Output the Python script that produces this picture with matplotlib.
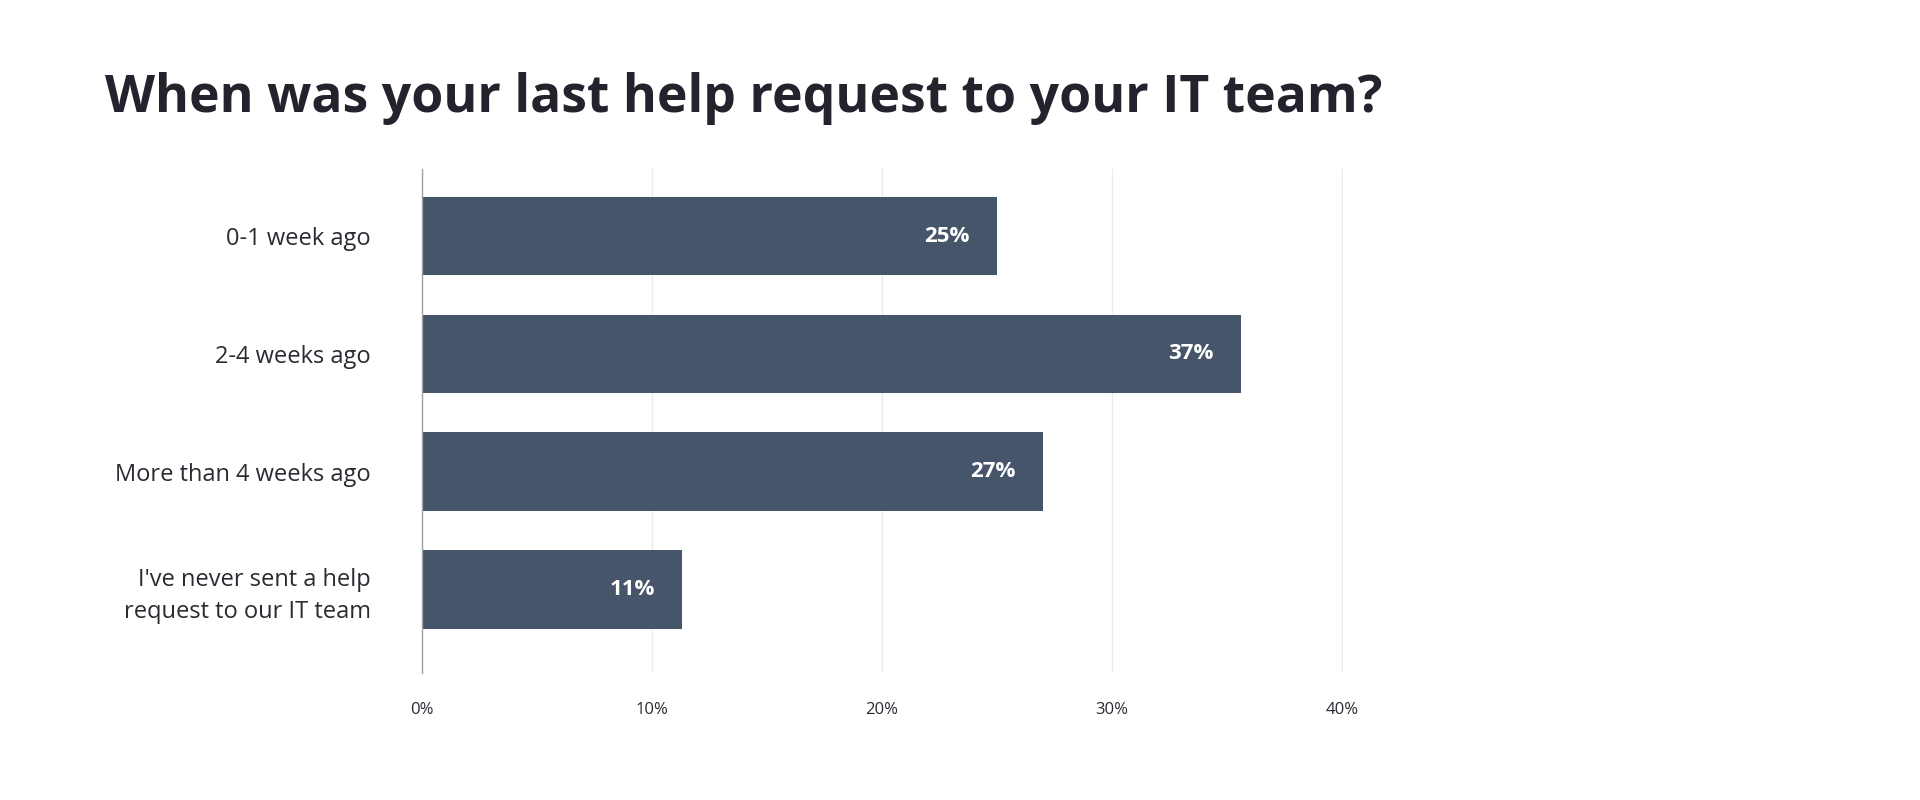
import matplotlib
matplotlib.use("Agg")
import matplotlib.pyplot as plt

# --- Data ---
categories = ["0-1 week ago", "2-4 weeks ago", "More than 4 weeks ago",
              "I've never sent a help\nrequest to our IT team"]
bar_values = [25, 35.6, 27, 11.3]
value_labels = ["25%", "37%", "27%", "11%"]
x_ticks = [0, 10, 20, 30, 40]
x_tick_labels = ["0%", "10%", "20%", "30%", "40%"]
title = "When was your last help request to your IT team?"

BAR_COLOR = "#465569"
TEXT_COLOR = "#2a2a32"
FONT = ["Open Sans", "DejaVu Sans"]

plt.rcParams['font.family'] = FONT

fig = plt.figure(figsize=(19.2, 8), dpi=100)
ax = fig.add_axes([422 / 1920, 1 - 673 / 800, 921 / 1920, 504 / 800])

positions = list(range(len(categories)))
ax.barh(positions, bar_values, height=0.667, color=BAR_COLOR, zorder=3)

for pos, val, lab in zip(positions, bar_values, value_labels):
    ax.annotate(lab, (val, pos), xytext=(-19.5, 0), textcoords="offset points",
                ha="right", va="center", color="white", fontsize=16,
                fontweight="bold", zorder=4)

ax.set_xlim(0, 40.05)
ax.set_ylim(3.71, -0.57)
ax.set_yticks(positions)
ax.set_yticklabels(categories, fontsize=17, color=TEXT_COLOR, linespacing=1.4)
ax.set_xticks(x_ticks)
ax.set_xticklabels(x_tick_labels, fontsize=12, color=TEXT_COLOR)
ax.tick_params(axis="y", length=0, pad=37)
ax.tick_params(axis="x", length=0, pad=21)

ax.grid(axis="x", color="#ebebeb", linewidth=1, zorder=0)
for side in ["top", "right", "bottom"]:
    ax.spines[side].set_visible(False)
ax.spines["left"].set_color("#a0a0a0")
ax.spines["left"].set_linewidth(1)
ax.spines["left"].set_zorder(5)

fig.text(105 / 1920, 1 - 112 / 800, title, fontsize=37.3, fontweight="bold",
         color="#23232d", ha="left", va="baseline")

fig.savefig("out.png", dpi=100, facecolor="white")
plt.close(fig)
